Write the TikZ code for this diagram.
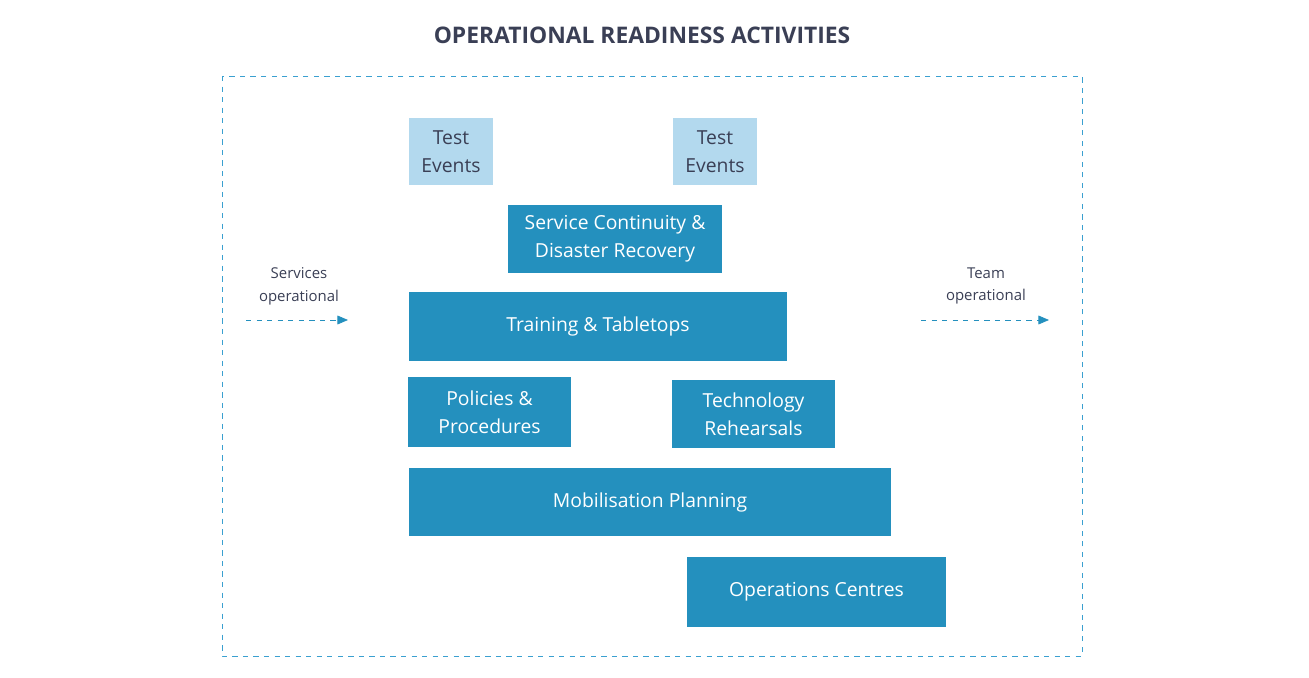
\documentclass[tikz,border=0pt]{standalone}
\usepackage{fontspec}
\setmainfont{Open Sans}
\usetikzlibrary{arrows.meta}
\definecolor{boxblue}{HTML}{2490BE}
\definecolor{lightblue}{HTML}{B3D9EE}
\definecolor{titlegrey}{HTML}{3A3F55}
\definecolor{frameblue}{HTML}{3AA0D0}
\tikzset{
  box/.style={fill=boxblue, text=white, shape=rectangle, align=center, font=\fontsize{11}{16}\selectfont, inner sep=0pt},
  testbox/.style={fill=lightblue, text=titlegrey, shape=rectangle, align=center, font=\fontsize{11}{16}\selectfont, inner sep=0pt, minimum width=1.68cm, minimum height=1.34cm},
  note/.style={text=titlegrey, align=center, font=\fontsize{8.5}{13}\selectfont},
  flow/.style={dashed, draw=boxblue, -{Triangle[length=6pt,width=5pt]}}
}
\begin{document}
\begin{tikzpicture}[x=0.02cm, y=-0.02cm]
\useasboundingbox (0,0) rectangle (1309,678);
\draw[frameblue, dashed] (222,76) rectangle (1082,656);
\node[text=titlegrey, font=\fontsize{13}{16}\bfseries\selectfont] (title) at (642,35) {OPERATIONAL READINESS ACTIVITIES};

\node[testbox] (test_a) at (451,151.5) {Test\\Events};
\node[testbox] (test_b) at (715,151.5) {Test\\Events};
\node[box, minimum width=4.28cm, minimum height=1.36cm] (continuity) at (615,239) {Service Continuity \&\\Disaster Recovery};
\node[box, minimum width=7.56cm, minimum height=1.38cm] (training) at (598,326.5) {Training \& Tabletops};
\node[box, minimum width=3.26cm, minimum height=1.40cm] (policies) at (489.5,412) {Policies \&\\Procedures};
\node[box, minimum width=3.26cm, minimum height=1.36cm] (technology) at (753.5,414) {Technology\\Rehearsals};
\node[box, minimum width=9.64cm, minimum height=1.36cm] (mobilisation) at (650,502) {Mobilisation Planning};
\node[box, minimum width=5.18cm, minimum height=1.40cm] (operations) at (816.5,592) {Operations Centres};

\node[note] (services) at (299,286) {Services\\operational};
\node[note] (team) at (986,286) {Team\\operational};
\coordinate (s_from) at (246,320);
\coordinate (s_to) at (348,320);
\coordinate (t_from) at (921,320);
\coordinate (t_to) at (1049,320);
\draw[flow] (s_from) -- (s_to);
\draw[flow] (t_from) -- (t_to);
\end{tikzpicture}
\end{document}
